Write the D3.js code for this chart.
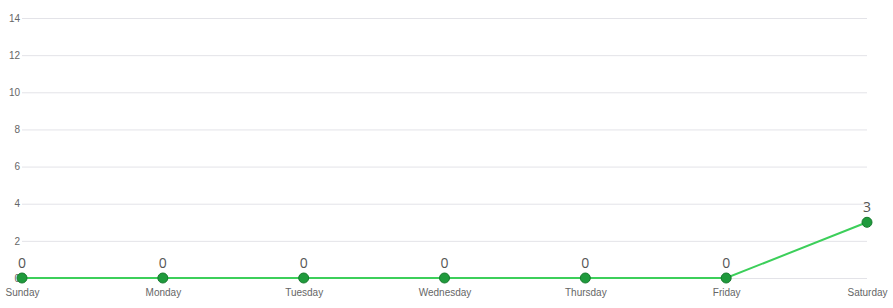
<!DOCTYPE html>
<html>
<head>
    <meta charset="utf-8">
    <style>
        body {
            margin: 0;
            background: #fff;
            font-family: 'Open Sans', 'Noto Sans', sans-serif;
        }

        svg {
            display: block;
        }

        .y .tick line {
            stroke: #e3e3e8;
        }

        .y .domain,
        .x .domain,
        .x .tick line {
            display: none;
        }

        .tick text {
            font-size: 10px;
            fill: #666;
        }

        .value-label {
            font-size: 14px;
            fill: #555;
        }
    </style>
</head>
<body>
    <svg width="893" height="308"></svg>

    <script src="https://d3js.org/d3.v7.min.js"></script>
    <script>
        let days = ["Sunday", "Monday", "Tuesday", "Wednesday", "Thursday", "Friday", "Saturday"]
        let counts = [0, 0, 0, 0, 0, 0, 3]
        let yTicks = [0, 2, 4, 6, 8, 10, 12, 14]

        let width = 893
        let height = 308
        let margin = { top: 18, right: 26, bottom: 30, left: 22 }

        let svg = d3.select("svg")

        let x = d3.scalePoint()
            .domain(days)
            .range([margin.left, width - margin.right])

        let y = d3.scaleLinear()
            .domain([0, 14])
            .range([height - margin.bottom, margin.top])

        // grid lines + y labels
        svg.append("g")
            .attr("class", "y axis")
            .attr("transform", `translate(${width - margin.right},0)`)
            .call(d3.axisLeft(y)
                .tickValues(yTicks)
                .tickSize(width - margin.right - margin.left)
                .tickPadding(2))

        svg.append("g")
            .attr("class", "x axis")
            .attr("transform", `translate(0,${height - margin.bottom})`)
            .call(d3.axisBottom(x).tickSize(0).tickPadding(11))

        let data = days.map((d, i) => ({ day: d, value: counts[i] }))

        let line = d3.line()
            .x(d => x(d.day))
            .y(d => y(d.value))

        svg.append("path")
            .datum(data)
            .attr("d", line)
            .style("fill", "none")
            .style("stroke", "#3ccf5a")
            .style("stroke-width", 2)

        svg.append("g")
            .selectAll("circle")
            .data(data)
            .join("circle")
            .attr("cx", d => x(d.day))
            .attr("cy", d => y(d.value))
            .attr("r", 5)
            .style("fill", "#1f9a3c")
            .style("stroke", "#177a2e")
            .style("stroke-width", 1)

        svg.append("g")
            .selectAll("text")
            .data(data)
            .join("text")
            .attr("class", "value-label")
            .attr("x", d => x(d.day))
            .attr("y", d => y(d.value) - 10)
            .attr("text-anchor", "middle")
            .text(d => d.value)
    </script>
</body>
</html>
